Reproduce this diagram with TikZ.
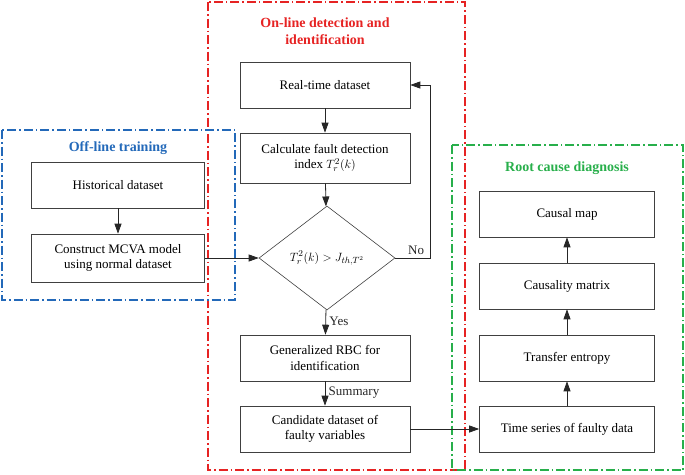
\documentclass[tikz,border=0pt]{standalone}
\usepackage{fontspec}
\setmainfont{Liberation Serif}
\usetikzlibrary{shapes.geometric,arrows.meta}
\definecolor{cred}{RGB}{230,35,35}
\definecolor{cblue}{RGB}{35,105,185}
\definecolor{cgreen}{RGB}{40,175,75}
\begin{document}
\begin{tikzpicture}[x=1pt,y=-1pt,
  box/.style={draw=black!75,line width=0.6pt,minimum width=170pt,minimum height=46pt,align=center,font=\fontsize{13}{15.5}\selectfont},
  frame/.style={line width=1.1pt,dash pattern=on 9pt off 3pt on 1.5pt off 3pt},
  ttl/.style={font=\bfseries\fontsize{14}{17}\selectfont,align=center},
  arr/.style={-{Triangle[length=10pt,width=7pt]},line width=0.8pt,black!85},
  lbl/.style={font=\fontsize{13}{15}\selectfont}]
\useasboundingbox (0,0) rectangle (685,474);
\draw[frame,cred] (208,2) rectangle (465,470);
\draw[frame,cblue] (2,130) rectangle (235,300);
\draw[frame,cgreen] (452,145) rectangle (683,470);
\node[ttl,text=cred] (t1) at (325,31) {On-line detection and\\identification};
\node[ttl,text=cblue] (t2) at (118,148) {Off-line training};
\node[ttl,text=cgreen] (t3) at (567,168) {Root cause diagnosis};
\node[box] (rt) at (325,85) {Real-time dataset};
\node[box,minimum height=50pt] (calc) at (325,158) {Calculate fault detection\\index $T_r^2(k)$};
\node[draw=black!75,line width=0.6pt,diamond,aspect=1.32,inner sep=1pt,minimum width=136pt,minimum height=104pt,font=\fontsize{13}{15}\selectfont] (dia) at (327,258) {$T_r^2(k)>J_{th,T^2}$};
\node[box] (rbc) at (325,358) {Generalized RBC for\\identification};
\node[box] (cand) at (325,429) {Candidate dataset of\\faulty variables};
\node[box,minimum width=173pt] (hist) at (118,185) {Historical dataset};
\node[box,minimum width=173pt,minimum height=48pt] (cons) at (118,258) {Construct MCVA model\\using normal dataset};
\node[box,minimum width=175pt] (cm) at (567,214) {Causal map};
\node[box,minimum width=175pt] (cmx) at (567,286) {Causality matrix};
\node[box,minimum width=175pt] (te) at (567,358) {Transfer entropy};
\node[box,minimum width=175pt] (ts) at (567,429) {Time series of faulty data};
\coordinate (c1) at (430,258);
\coordinate (c2) at (430,85);
\draw[arr] (rt) -- (calc);
\draw[arr] (calc) -- (dia);
\draw[arr] (dia) -- node[lbl,right,pos=0.45]{Yes} (rbc);
\draw[arr] (rbc) -- node[lbl,right,pos=0.45]{Summary} (cand);
\draw[arr] (dia.east) -- node[lbl,above,pos=0.6]{No} (c1) -- (c2) -- (rt.east);
\draw[arr] (hist) -- (cons);
\draw[arr] (cons) -- (dia.west);
\draw[arr] (cand) -- (ts);
\draw[arr] (ts) -- (te);
\draw[arr] (te) -- (cmx);
\draw[arr] (cmx) -- (cm);
\end{tikzpicture}
\end{document}
